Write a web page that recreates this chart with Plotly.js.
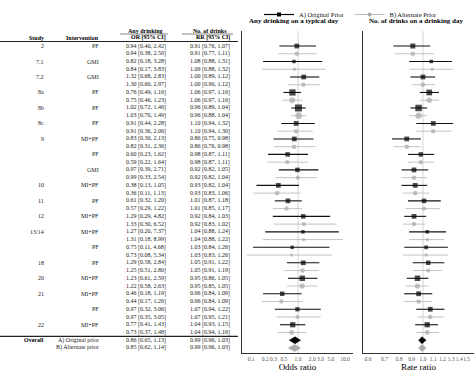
<!DOCTYPE html>
<html><head><meta charset="utf-8">
<script src="https://cdn.plot.ly/plotly-3.0.1.min.js"></script>
<style>html,body{margin:0;padding:0;background:#fff}</style>
</head><body><div id="chart" style="width:474px;height:372px"></div>
<script>
// ---------- DATA ----------
const studies = ["2","7.1","7.2","8a","8b","8c","9","","","10","11","12","13/14","","18","20","21","","22"];
const interventions = ["PF","GMI","GMI","PF","PF","PF","MI+PF","PF","GMI","MI+PF","PF","MI+PF","MI+PF","PF","PF","MI+PF","MI+PF","PF","MI+PF"];

// Any drinking: odds ratios, A) original prior
const orOrig   = [0.94,0.82,1.32,0.76,1.02,0.91,0.83,0.60,0.97,0.38,0.61,1.29,1.27,0.75,1.29,1.23,0.46,0.97,0.77];
const orOrigLo = [0.40,0.18,0.68,0.49,0.72,0.44,0.30,0.23,0.39,0.13,0.32,0.29,0.20,0.11,0.58,0.61,0.18,0.32,0.41];
const orOrigHi = [2.42,3.28,2.83,1.16,1.46,2.28,2.13,1.62,2.71,1.05,1.20,4.82,7.37,4.68,2.84,2.59,1.19,3.06,1.43];
// B) alternate prior
const orAlt    = [0.94,0.84,1.30,0.75,1.03,0.91,0.82,0.59,0.99,0.36,0.57,1.33,1.31,0.73,1.25,1.22,0.44,0.97,0.73];
const orAltLo  = [0.38,0.17,0.60,0.46,0.70,0.36,0.31,0.22,0.33,0.11,0.29,0.30,0.18,0.08,0.51,0.58,0.17,0.35,0.37];
const orAltHi  = [2.50,3.83,2.97,1.23,1.49,2.06,2.36,1.64,2.54,1.13,1.22,6.52,8.99,5.34,2.80,2.63,1.26,3.05,1.48];

// No. of drinks: rate ratios
const rrOrig   = [0.91,1.08,1.00,1.06,0.96,1.10,0.86,0.98,0.92,0.93,1.01,0.92,1.04,1.03,1.05,0.95,0.96,1.07,1.04];
const rrOrigLo = [0.76,0.88,0.89,0.97,0.89,0.94,0.75,0.87,0.82,0.82,0.87,0.84,0.88,0.84,0.91,0.86,0.84,0.94,0.93];
const rrOrigHi = [1.07,1.31,1.12,1.16,1.04,1.32,0.98,1.11,1.05,1.04,1.18,1.03,1.24,1.26,1.22,1.05,1.09,1.22,1.15];
const rrAlt    = [0.91,1.09,1.00,1.06,0.96,1.10,0.86,0.98,0.92,0.93,1.01,0.92,1.04,1.03,1.05,0.95,0.96,1.07,1.04];
const rrAltLo  = [0.77,0.88,0.90,0.97,0.88,0.94,0.76,0.87,0.82,0.83,0.85,0.83,0.88,0.83,0.91,0.85,0.84,0.95,0.94];
const rrAltHi  = [1.11,1.32,1.12,1.16,1.04,1.30,0.98,1.11,1.04,1.06,1.17,1.02,1.22,1.26,1.19,1.05,1.09,1.21,1.16];

// relative study weights
const weightOR = [0.55,0.3,0.55,0.85,1.0,0.55,0.55,0.5,0.5,0.55,0.55,0.5,0.3,0.3,0.55,0.7,0.5,0.45,0.65];
const weightRR = [0.6,0.3,0.55,0.75,0.9,0.55,0.55,0.5,0.55,0.55,0.5,0.55,0.3,0.35,0.5,0.7,0.55,0.55,0.65];

// Overall pooled estimates [A) original, B) alternate]
const overallLabels = ["A) Original prior","B) Alternate prior"];
const orOverall   = [0.86,0.85], orOverallLo = [0.65,0.62], orOverallHi = [1.13,1.14];
const rrOverall   = [0.99,0.99], rrOverallLo = [0.96,0.96], rrOverallHi = [1.03,1.03];

const orTicks = [0.1,0.2,0.3,0.5,1,2,3,5,10];
const orTickText = ["0.1","0.2","0.3","0.5","1.0","2.0","3.0","5.0","10.0"];
const rrTicks = [0.6,0.7,0.8,0.9,1.0,1.1,1.2,1.3,1.4,1.5];
const rrTickText = ["0.6","0.7","0.8","0.9","1.0","1.1","1.2","1.3","1.4","1.5"];

// ---------- LAYOUT HELPERS ----------
const W = 474, H = 372, TOP = 31, BOT = 353;
const SERIF = '"Liberation Serif","Times New Roman",serif';
const BLACK = '#000', GREY = '#aaaaaa', GREYLINE = '#bdbdbd';
const n = studies.length;
const rowsOrig = studies.map((_, i) => 2*i + 1);
const rowsAlt  = studies.map((_, i) => 2*i + 2);
const overallRows = [2*n + 1, 2*n + 2];
const yRange = [overallRows[1] + 0.65, -0.94];
const px = v => v / W;
const py = v => (BOT - v) / (BOT - TOP);
const f2 = v => v.toFixed(2);
const ci = (e, l, h) => f2(e) + ' [' + f2(l) + ', ' + f2(h) + ']';
const sz = w => 2 + w * 5;

const traces = [];
// reference lines at 1
traces.push({x:[1,1], y:yRange, xaxis:'x', yaxis:'y', mode:'lines', line:{color:'#c8c8c8', width:0.8}, showlegend:false, hoverinfo:'skip'});
traces.push({x:[1,1], y:yRange, xaxis:'x2', yaxis:'y2', mode:'lines', line:{color:'#c8c8c8', width:0.8}, showlegend:false, hoverinfo:'skip'});

function pointTrace(est, lo, hi, rows, weights, ax, orig) {
  return {
    x: est, y: rows, xaxis: ax.x, yaxis: ax.y, mode: 'markers', type: 'scatter', showlegend: false,
    marker: {symbol: orig ? 'square' : 'circle', color: orig ? BLACK : GREY, size: weights.map(w => orig ? sz(w) : sz(w)*0.95), line:{width:0}},
    error_x: {type:'data', symmetric:false, array: hi.map((h, i) => h - est[i]), arrayminus: lo.map((l, i) => est[i] - l),
              color: orig ? '#111' : GREYLINE, thickness: orig ? 1.1 : 0.9, width: 0}
  };
}
traces.push(pointTrace(orAlt, orAltLo, orAltHi, rowsAlt, weightOR, {x:'x', y:'y'}, false));
traces.push(pointTrace(orOrig, orOrigLo, orOrigHi, rowsOrig, weightOR, {x:'x', y:'y'}, true));
traces.push(pointTrace(rrAlt, rrAltLo, rrAltHi, rowsAlt, weightRR, {x:'x2', y:'y2'}, false));
traces.push(pointTrace(rrOrig, rrOrigLo, rrOrigHi, rowsOrig, weightRR, {x:'x2', y:'y2'}, true));

// pooled diamonds
function diamond(est, lo, hi, row, ax, color) {
  const h = 0.45;
  return {x:[lo, est, hi, est, lo], y:[row, row - h, row, row + h, row], xaxis: ax.x, yaxis: ax.y,
          mode:'lines', fill:'toself', fillcolor: color, line:{color: color, width:0.5}, showlegend:false, hoverinfo:'skip'};
}
[0,1].forEach(k => {
  const c = k === 0 ? BLACK : GREY;
  traces.push(diamond(orOverall[k], orOverallLo[k], orOverallHi[k], overallRows[k], {x:'x', y:'y'}, c));
  traces.push(diamond(rrOverall[k], rrOverallLo[k], rrOverallHi[k], overallRows[k], {x:'x2', y:'y2'}, c));
});

// legend entries
traces.push({x:[null], y:[null], xaxis:'x', yaxis:'y', mode:'lines+markers', name:'A) Original Prior',
  line:{color:BLACK, width:1.2}, marker:{symbol:'square', color:BLACK, size:4}});
traces.push({x:[null], y:[null], xaxis:'x', yaxis:'y', mode:'lines+markers', name:'B) Alternate Prior',
  line:{color:GREYLINE, width:1}, marker:{symbol:'circle', color:GREY, size:4}});

// ---------- TABLE ----------
const ann = [];
const TXT = {family: SERIF, size: 6, color: '#1a1a1a'};
const BOLD = {family: SERIF, size: 6, color: '#000', weight: 'bold'};
function cell(text, xpx, row, font, anchor) {
  ann.push({text: text, x: px(xpx), xref:'paper', y: row, yref:'y', xanchor: anchor || 'right', yanchor:'middle',
            showarrow:false, font: font || TXT, borderpad:0});
}
function head(text, xpx, ypx, font, anchor) {
  ann.push({text: text, x: px(xpx), xref:'paper', y: py(ypx), yref:'paper', xanchor: anchor || 'right', yanchor:'middle',
            showarrow:false, font: font || BOLD, borderpad:0});
}
head('Any drinking', 145, 30.5, BOLD, 'center');
head('No. of drinks', 210, 30.5, BOLD, 'center');
head('Study', 45, 37.5);
head('Intervention', 100, 37.5);
head('OR [95% CI]', 167, 37.5);
head('RR [95% CI]', 231, 37.5);
for (let i = 0; i < n; i++) {
  if (studies[i]) cell(studies[i], 45, rowsOrig[i]);
  cell(interventions[i], 100, rowsOrig[i]);
  cell(ci(orOrig[i], orOrigLo[i], orOrigHi[i]), 167, rowsOrig[i]);
  cell(ci(orAlt[i], orAltLo[i], orAltHi[i]), 167, rowsAlt[i]);
  cell(ci(rrOrig[i], rrOrigLo[i], rrOrigHi[i]), 231, rowsOrig[i]);
  cell(ci(rrAlt[i], rrAltLo[i], rrAltHi[i]), 231, rowsAlt[i]);
}
cell('Overall', 45, overallRows[0], BOLD);
[0,1].forEach(k => {
  cell(overallLabels[k], 100, overallRows[k]);
  cell(ci(orOverall[k], orOverallLo[k], orOverallHi[k]), 167, overallRows[k]);
  cell(ci(rrOverall[k], rrOverallLo[k], rrOverallHi[k]), 231, overallRows[k]);
});

// panel titles
head('Any drinking on a typical day', 294, 21, {family: SERIF, size: 7, color:'#000', weight:'bold'}, 'center');
head('No. of drinks on a drinking day', 416, 21, {family: SERIF, size: 7, color:'#000', weight:'bold'}, 'center');

const shapes = [
  {type:'line', xref:'paper', yref:'paper', x0:px(120), x1:px(168), y0:py(34), y1:py(34), line:{color:'#333', width:0.6}},
  {type:'line', xref:'paper', yref:'paper', x0:px(182), x1:px(233), y0:py(34), y1:py(34), line:{color:'#333', width:0.6}},
  {type:'line', xref:'paper', yref:'paper', x0:0, x1:px(238), y0:py(41.5), y1:py(41.5), line:{color:'#222', width:1.2}},
  {type:'line', xref:'paper', yref:'y', x0:0, x1:px(238), y0:overallRows[0] - 0.5, y1:overallRows[0] - 0.5, line:{color:'#222', width:1.2}}
];

const axisCommon = {type:'log', showgrid:false, zeroline:false, showline:true, linecolor:'#333', linewidth:1,
  ticks:'', tickangle:0, tickfont:{family: SERIF, size:5.5, color:'#555'}, fixedrange:true};
const layout = {
  width: W, height: H, margin:{l:0, r:0, t:TOP, b:H - BOT},
  paper_bgcolor:'#fff', plot_bgcolor:'#fff', font:{family: SERIF},
  showlegend: true,
  legend: {orientation:'h', x: px(259), xanchor:'left', y: py(0), yanchor:'top', font:{family: SERIF, size:6.5, color:'#111'},
           bgcolor:'rgba(0,0,0,0)', itemwidth:30, tracegroupgap:0},
  xaxis: Object.assign({}, axisCommon, {domain:[px(242), px(353)], range:[Math.log10(0.064), Math.log10(14.8)],
          tickvals: orTicks, ticktext: orTickText, anchor:'y',
          title:{text:'Odds ratio', font:{family: SERIF, size:9, color:'#000'}, standoff:1}}),
  xaxis2: Object.assign({}, axisCommon, {domain:[px(363), 1], range:[Math.log10(0.573), Math.log10(1.606)],
          tickvals: rrTicks, ticktext: rrTickText, anchor:'y2',
          title:{text:'Rate ratio', font:{family: SERIF, size:9, color:'#000'}, standoff:1}}),
  yaxis: {domain:[0,1], range: yRange, showticklabels:false, showgrid:false, zeroline:false, showline:true, linecolor:'#333', linewidth:1, ticks:'', anchor:'x', fixedrange:true},
  yaxis2: {domain:[0,1], range: yRange, matches:'y', showticklabels:false, showgrid:false, zeroline:false, showline:true, linecolor:'#333', linewidth:1, ticks:'', anchor:'x2', fixedrange:true},
  annotations: ann, shapes: shapes
};
Plotly.newPlot('chart', traces, layout, {displayModeBar:false, staticPlot:true});
</script></body></html>
